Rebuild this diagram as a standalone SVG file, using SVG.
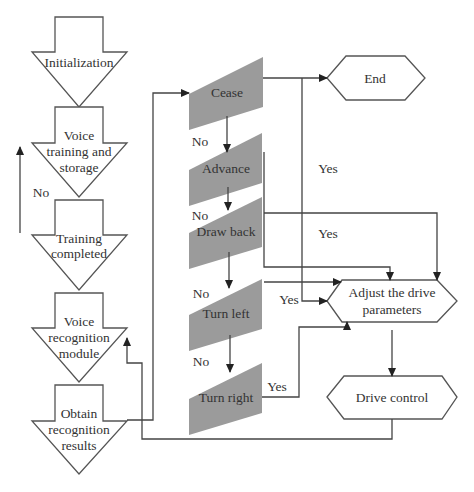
<svg xmlns="http://www.w3.org/2000/svg" width="474" height="492" viewBox="0 0 474 492">
<defs>
<marker id="ah" markerWidth="9" markerHeight="8" refX="8" refY="4" orient="auto" markerUnits="userSpaceOnUse">
<path d="M0,0 L9,4 L0,8 Z" fill="#222"/>
</marker>
</defs>
<style>
.arr{fill:#fff;stroke:#555;stroke-width:1.3}
.hex{fill:#fff;stroke:#555;stroke-width:1.3}
.gray{fill:#9b9b9b;stroke:none}
.t{font-family:"Liberation Serif",serif;font-size:13.5px;fill:#333;text-anchor:middle}
.c{fill:none;stroke:#444;stroke-width:1.3}
.ca{fill:none;stroke:#444;stroke-width:1.3;marker-end:url(#ah)}
</style>
<rect width="474" height="492" fill="#fff"/>

<g id="initialization">
<polygon class="arr" points="55,17 103,17 103,52 127,52 79,107 32,52 55,52"/>
<text class="t" x="79" y="67">Initialization</text>
</g>
<g id="voice-training">
<polygon class="arr" points="55,107 103,107 103,143 127,143 79,197 32,143 55,143"/>
<text class="t" x="79" y="140">Voice</text>
<text class="t" x="79" y="156">training and</text>
<text class="t" x="79" y="172">storage</text>
</g>
<g id="training-completed">
<polygon class="arr" points="55,200 103,200 103,235 127,235 79,290 32,235 55,235"/>
<text class="t" x="79" y="243">Training</text>
<text class="t" x="79" y="258">completed</text>
</g>
<g id="voice-recognition">
<polygon class="arr" points="55,293 103,293 103,328 127,328 79,382 32,328 55,328"/>
<text class="t" x="79" y="326">Voice</text>
<text class="t" x="79" y="342">recognition</text>
<text class="t" x="79" y="358">module</text>
</g>
<g id="obtain-results">
<polygon class="arr" points="55,385 103,385 103,421 127,421 79,474 32,421 55,421"/>
<text class="t" x="79" y="418">Obtain</text>
<text class="t" x="79" y="434">recognition</text>
<text class="t" x="79" y="450">results</text>
</g>

<g id="cease">
<polygon class="gray" points="189,94 263,57 263,107 189,130"/>
<text class="t" x="227" y="97">Cease</text>
</g>
<g id="advance">
<polygon class="gray" points="189,170 262,133 262,183 189,206"/>
<text class="t" x="226" y="173">Advance</text>
</g>
<g id="draw-back">
<polygon class="gray" points="189,233 262,197 262,247 189,269"/>
<text class="t" x="226" y="236">Draw back</text>
</g>
<g id="turn-left">
<polygon class="gray" points="189,315 262,279 262,329 189,351"/>
<text class="t" x="226" y="318">Turn left</text>
</g>
<g id="turn-right">
<polygon class="gray" points="189,399 262,363 262,413 189,435"/>
<text class="t" x="226" y="402">Turn right</text>
</g>

<g id="end">
<polygon class="hex" points="327,78 346,56 405,56 425,78 405,100 346,100"/>
<text class="t" x="375" y="83">End</text>
</g>
<g id="adjust">
<polygon class="hex" points="327,301 342,280 437,280 457,301 437,322 342,322"/>
<text class="t" x="392" y="297">Adjust the drive</text>
<text class="t" x="392" y="314">parameters</text>
</g>
<g id="drive-control">
<polygon class="hex" points="327,397 344,376 442,376 457,397 442,419 344,419"/>
<text class="t" x="392" y="402">Drive control</text>
</g>

<g id="connectors">
<path class="ca" d="M20,233 V147"/>
<path class="ca" d="M127,420 H153 V93 H189"/>
<path class="ca" d="M392,419 V439 H142 V363 H127 V338"/>
<path class="ca" d="M263,78 H327"/>
<path class="ca" d="M302,78 V301 H327"/>
<path class="ca" d="M227,116 V152"/>
<path class="ca" d="M228,187 V210"/>
<path class="ca" d="M229,252 V288"/>
<path class="ca" d="M230,335 V372"/>
<path class="ca" d="M264,152 V267 H390 V280"/>
<path class="ca" d="M264,213 H437 V280"/>
<path class="ca" d="M264,282 H341"/>
<path class="ca" d="M262,397 H299 V327 H347 V322"/>
<path class="ca" d="M392,330 V376"/>
</g>

<g id="labels">
<text class="t" x="41" y="197">No</text>
<text class="t" x="200" y="146">No</text>
<text class="t" x="200" y="220">No</text>
<text class="t" x="201" y="298">No</text>
<text class="t" x="201" y="366">No</text>
<text class="t" x="328" y="173">Yes</text>
<text class="t" x="328" y="238">Yes</text>
<text class="t" x="289" y="304">Yes</text>
<text class="t" x="277" y="391">Yes</text>
</g>
</svg>
